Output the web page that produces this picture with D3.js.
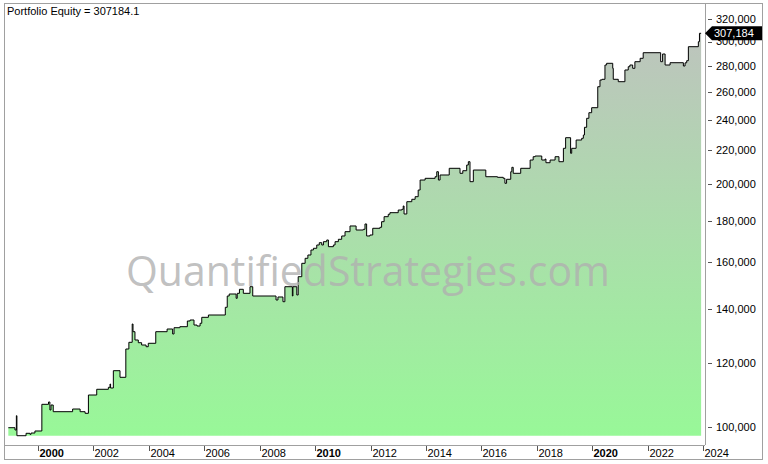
<!DOCTYPE html>
<html>
<head>
<meta charset="utf-8">
<script src="https://cdn.jsdelivr.net/npm/d3@7"></script>
<style>
  body { margin: 0; background: #fff; }
  svg { display: block; font-family: "Liberation Sans", Arial, sans-serif; }
</style>
</head>
<body>
<svg id="chart"></svg>
<script>
// Chart size
const width = 768;
const height = 464;

// Equity curve (decimal year, portfolio equity)
const years = [
  1998.93, 1999.17, 1999.22, 1999.24, 1999.57, 1999.71, 1999.75, 1999.89, 2000.14, 2000.38,
  2000.43, 2000.47, 2000.55, 2001.25, 2001.52, 2001.70, 2001.82, 2002.12, 2002.54, 2002.60,
  2002.62, 2002.72, 2002.96, 2003.17, 2003.28, 2003.40, 2003.43, 2003.50, 2003.62, 2003.74,
  2003.90, 2003.98, 2004.25, 2004.66, 2004.86, 2004.91, 2005.12, 2005.39, 2005.49, 2005.63,
  2005.74, 2005.85, 2005.91, 2006.15, 2006.76, 2006.83, 2006.90, 2007.15, 2007.19, 2007.27,
  2007.41, 2007.65, 2007.75, 2008.59, 2008.66, 2008.84, 2008.91, 2009.18, 2009.20, 2009.34,
  2009.39, 2009.52, 2009.64, 2009.74, 2009.85, 2009.94, 2010.06, 2010.15, 2010.24, 2010.30,
  2010.42, 2010.48, 2010.66, 2010.72, 2010.84, 2010.96, 2011.08, 2011.26, 2011.48, 2011.74,
  2011.80, 2011.86, 2011.98, 2012.08, 2012.34, 2012.40, 2012.49, 2012.64, 2012.70, 2013.00,
  2013.13, 2013.18, 2013.21, 2013.31, 2013.49, 2013.61, 2013.72, 2013.79, 2013.97, 2014.33,
  2014.39, 2014.45, 2014.51, 2014.84, 2015.23, 2015.33, 2015.47, 2015.53, 2015.59, 2015.71,
  2016.16, 2016.58, 2016.79, 2016.85, 2016.91, 2017.06, 2017.10, 2017.15, 2017.42, 2017.76,
  2017.87, 2017.94, 2018.18, 2018.30, 2018.33, 2018.48, 2018.66, 2018.80, 2018.96, 2019.04,
  2019.22, 2019.26, 2019.42, 2019.62, 2019.68, 2019.72, 2019.80, 2019.88, 2019.98, 2020.20,
  2020.28, 2020.35, 2020.46, 2020.52, 2020.74, 2020.76, 2020.94, 2021.18, 2021.30, 2021.36,
  2021.46, 2021.54, 2021.73, 2021.84, 2022.47, 2022.54, 2022.63, 2022.81, 2023.29, 2023.35,
  2023.41, 2023.47, 2023.83, 2023.87, 2023.93
];
const equity = [
  99800, 99150, 103270, 97550, 98220, 97940, 98300, 98870, 106680, 107390,
  104970, 106470, 104460, 105260, 104460, 103980, 109550, 111350, 111980, 113040,
  111760, 117410, 115220, 124900, 127310, 134130, 131220, 128150, 127160, 126330,
  125720, 126950, 131220, 132230, 130360, 132720, 133100, 135280, 135670, 133740,
  133360, 134400, 136710, 137610, 140670, 145270, 146100, 144320, 146390, 148070,
  146390, 149170, 145270, 143630, 144860, 142930, 149170, 145270, 149170, 145690,
  153490, 159460, 161750, 163280, 165630, 166440, 168010, 169110, 168010, 169600,
  170420, 167200, 168010, 169600, 170760, 172380, 174510, 177370, 175340, 175700,
  178380, 172380, 172870, 176200, 176710, 179550, 182130, 183380, 184220, 185620,
  186010, 187770, 183530, 190080, 191390, 192810, 196500, 202190, 203180, 204110,
  207040, 202190, 205110, 209060, 206100, 207630, 211030, 213030, 201240, 208030,
  204110, 203760, 203180, 200320, 202620, 207040, 209660, 206100, 209060, 214050,
  216090, 216520, 214050, 214680, 212420, 214050, 216090, 213030, 221330, 228120,
  218200, 221330, 226610, 227730, 229880, 234980, 241090, 244970, 248490, 263810,
  268880, 269440, 280640, 282010, 278020, 269440, 267600, 276680, 279290, 280640,
  278020, 283300, 286060, 290660, 283300, 289590, 280640, 282490, 279850, 282400,
  284110, 295680, 299910, 307184, 307184
];

// Axis ticks
const yearTicks = [2000, 2002, 2004, 2006, 2008, 2010, 2012, 2014, 2016, 2018, 2020, 2022, 2024];
const boldYears = [2000, 2010, 2020];
const equityTicks = [100000, 120000, 140000, 160000, 180000, 200000, 220000, 240000, 260000, 280000, 300000, 320000];

const lastValue = 307184.1;
const titleText = "Portfolio Equity = " + lastValue;
const watermark = "QuantifiedStrategies.com";

const data = years.map((yr, i) => ({ yr: yr, v: equity[i] }));

// Layout of the panes
const plot = { left: 5, right: 705, top: 5, bottom: 445 };
const outer = { left: 4, right: 762, top: 3, bottom: 459 };

const svg = d3.select("#chart")
    .attr("width", width)
    .attr("height", height);

const x = d3.scaleLinear()
    .domain([1998.81, 2024.07])
    .range([plot.left, plot.right]);

const y = d3.scaleLog()
    .domain([95000, 333000])
    .range([plot.bottom, plot.top]);

// Gradient fill under the curve
const defs = svg.append("defs");
const grad = defs.append("linearGradient")
    .attr("id", "eqFill")
    .attr("gradientUnits", "userSpaceOnUse")
    .attr("x1", 0).attr("x2", 0)
    .attr("y1", plot.top).attr("y2", y(d3.min(equity)));
grad.append("stop").attr("offset", "0%").attr("stop-color", "#c0c0c0");
grad.append("stop").attr("offset", "100%").attr("stop-color", "#98f898");

defs.append("clipPath").attr("id", "plotClip")
  .append("rect")
    .attr("x", plot.left).attr("y", plot.top)
    .attr("width", plot.right - plot.left).attr("height", plot.bottom - plot.top);

const baseline = y(d3.min(equity));

const area = d3.area()
    .curve(d3.curveStepAfter)
    .x(d => x(d.yr))
    .y0(baseline)
    .y1(d => y(d.v));

const line = d3.line()
    .curve(d3.curveStepAfter)
    .x(d => x(d.yr))
    .y(d => y(d.v));

const g = svg.append("g").attr("clip-path", "url(#plotClip)");

g.append("path")
    .datum(data)
    .attr("d", area)
    .attr("fill", "url(#eqFill)");

g.append("path")
    .datum(data)
    .attr("d", line)
    .attr("fill", "none")
    .attr("stroke", "#000")
    .attr("stroke-width", 1);

// Watermark
svg.append("text")
    .attr("x", 126)
    .attr("y", 286)
    .attr("textLength", 484)
    .attr("lengthAdjust", "spacingAndGlyphs")
    .attr("font-family", "'Open Sans', 'DejaVu Sans', sans-serif")
    .attr("font-size", 42)
    .attr("fill", "#b0b0b0")
    .attr("fill-opacity", 0.8)
    .text(watermark);

// Frame lines
const frame = svg.append("g").attr("stroke", "#a0a0a0").attr("fill", "none");
frame.append("rect")
    .attr("x", outer.left + 0.5).attr("y", outer.top + 0.5)
    .attr("width", outer.right - outer.left).attr("height", outer.bottom - outer.top);
frame.append("line")
    .attr("x1", outer.left).attr("x2", plot.right)
    .attr("y1", plot.bottom + 0.5).attr("y2", plot.bottom + 0.5);
frame.append("line")
    .attr("x1", plot.right + 0.5).attr("x2", plot.right + 0.5)
    .attr("y1", outer.top).attr("y2", plot.bottom);

// Right value axis
const yAxis = svg.append("g")
    .attr("font-size", 11)
    .attr("fill", "#000");
equityTicks.forEach(t => {
  yAxis.append("line")
      .attr("x1", plot.right + 3).attr("x2", plot.right + 7)
      .attr("y1", Math.round(y(t)) + 0.5).attr("y2", Math.round(y(t)) + 0.5)
      .attr("stroke", "#555");
  yAxis.append("text")
      .attr("x", plot.right + 11)
      .attr("y", y(t))
      .attr("dy", "0.35em")
      .text(d3.format(",")(t));
});

// Bottom year axis
const xAxis = svg.append("g").attr("font-size", 11).attr("fill", "#000");
yearTicks.forEach(t => {
  const px = Math.round(x(t)) + 0.5;
  xAxis.append("line")
      .attr("x1", px).attr("x2", px)
      .attr("y1", plot.bottom + 1).attr("y2", plot.bottom + 6)
      .attr("stroke", "#555");
  xAxis.append("text")
      .attr("x", px + 1)
      .attr("y", plot.bottom + 12)
      .attr("font-weight", boldYears.includes(t) ? "bold" : "normal")
      .text(t);
});

// Last value tag
const ty = y(lastValue);
svg.append("path")
    .attr("d", `M${plot.right},${ty} L${plot.right + 7},${ty - 7} L${outer.right},${ty - 7} L${outer.right},${ty + 7} L${plot.right + 7},${ty + 7} Z`)
    .attr("fill", "#000");
svg.append("text")
    .attr("x", plot.right + 9)
    .attr("y", ty)
    .attr("dy", "0.36em")
    .attr("font-size", 11)
    .attr("fill", "#fff")
    .text(d3.format(",.0f")(lastValue));

// Title
svg.append("text")
    .attr("x", 7)
    .attr("y", 15)
    .attr("font-size", 11)
    .attr("fill", "#000")
    .text(titleText);
</script>
</body>
</html>
